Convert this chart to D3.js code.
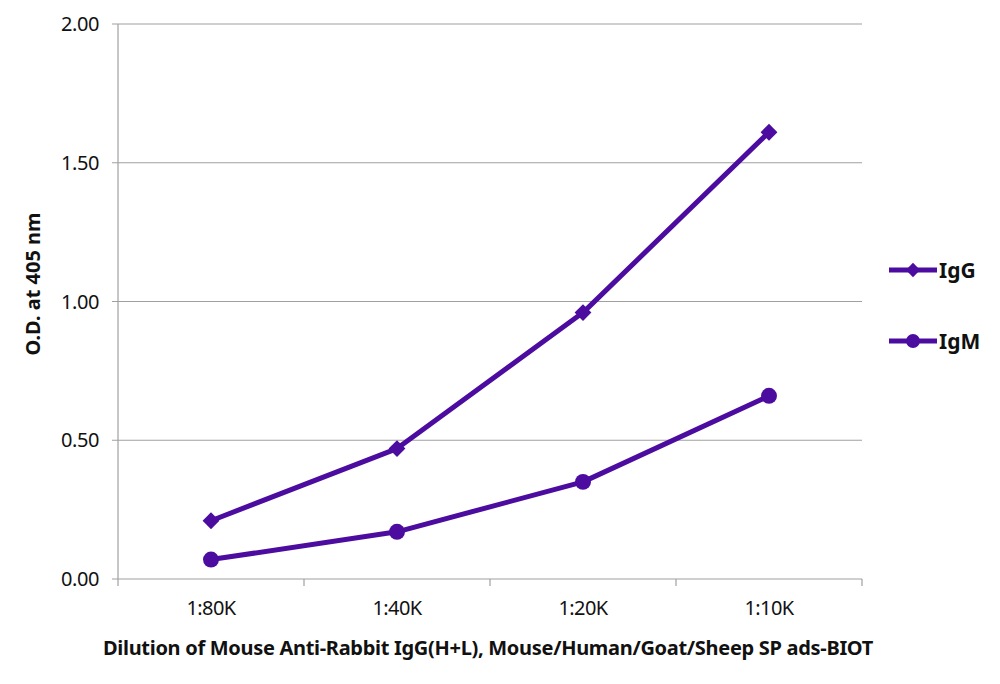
<!DOCTYPE html>
<html>
<head>
<meta charset="utf-8">
<script src="https://cdn.jsdelivr.net/npm/d3@7"></script>
<style>
  body { margin: 0; background: #fff; }
  text { font-family: "Noto Sans", "Open Sans", sans-serif; }
</style>
</head>
<body>
<svg id="chart" width="1000" height="684"></svg>
<script>
const dilutions = ['1:80K', '1:40K', '1:20K', '1:10K'];
const igG = [0.21, 0.47, 0.96, 1.61];
const igM = [0.07, 0.17, 0.35, 0.66];
const yTicks = [0, 0.5, 1.0, 1.5, 2.0];

const svg = d3.select('#chart');
const margin = { left: 118, top: 24, right: 138, bottom: 105 },
  width = 1000, height = 684;
const color = '#4b0c9f';

const x = d3.scaleBand()
  .domain(dilutions)
  .range([margin.left, width - margin.right]);

const y = d3.scaleLinear()
  .domain([0, 2])
  .range([height - margin.bottom, margin.top]);

// horizontal gridlines
svg.append('g')
  .selectAll('line')
  .data(yTicks)
  .enter()
  .append('line')
    .attr('x1', margin.left - 6)
    .attr('x2', width - margin.right)
    .attr('y1', d => y(d))
    .attr('y2', d => y(d))
    .attr('stroke', '#a0a0a0')
    .attr('stroke-width', 1.2);

// y axis line + labels
svg.append('line')
  .attr('x1', margin.left).attr('x2', margin.left)
  .attr('y1', y(2)).attr('y2', y(0))
  .attr('stroke', '#a0a0a0').attr('stroke-width', 1.2);

svg.append('g')
  .selectAll('text')
  .data(yTicks)
  .enter()
  .append('text')
    .attr('x', margin.left - 19)
    .attr('y', d => y(d))
    .attr('dy', '0.36em')
    .attr('text-anchor', 'end')
    .attr('font-size', 20)
    .attr('letter-spacing', -0.4)
    .attr('fill', '#111')
    .text(d => d.toFixed(2));

// x axis ticks at category boundaries
const bounds = dilutions.map(d => x(d)).concat([x.range()[1]]);
svg.append('g')
  .selectAll('line')
  .data(bounds)
  .enter()
  .append('line')
    .attr('x1', d => d).attr('x2', d => d)
    .attr('y1', y(0)).attr('y2', y(0) + 7)
    .attr('stroke', '#a0a0a0').attr('stroke-width', 1.2);

svg.append('g')
  .selectAll('text')
  .data(dilutions)
  .enter()
  .append('text')
    .attr('x', d => x(d) + x.bandwidth() / 2)
    .attr('y', y(0) + 36)
    .attr('text-anchor', 'middle')
    .attr('font-size', 20)
    .attr('letter-spacing', -0.6)
    .attr('fill', '#111')
    .text(d => d);

// axis titles
svg.append('text')
  .attr('x', 488)
  .attr('y', 655)
  .attr('text-anchor', 'middle')
  .attr('font-size', 20)
  .attr('font-weight', 'bold')
  .attr('letter-spacing', -0.3)
  .attr('fill', '#111')
  .text('Dilution of Mouse Anti-Rabbit IgG(H+L), Mouse/Human/Goat/Sheep SP ads-BIOT');

svg.append('text')
  .attr('transform', 'translate(40,284) rotate(-90)')
  .attr('text-anchor', 'middle')
  .attr('font-size', 20)
  .attr('font-weight', 'bold')
  .attr('fill', '#111')
  .text('O.D. at 405 nm');

// series lines
const line = d3.line()
  .x((d, i) => x(dilutions[i]) + x.bandwidth() / 2)
  .y(d => y(d));

const series = [
  { name: 'IgG', values: igG, marker: 'diamond' },
  { name: 'IgM', values: igM, marker: 'circle' }
];

series.forEach(s => {
  svg.append('path')
    .attr('d', line(s.values))
    .attr('fill', 'none')
    .attr('stroke', color)
    .attr('stroke-width', 5)
    .attr('stroke-linejoin', 'round');

  const sym = s.marker === 'diamond'
    ? d3.symbol().type(d3.symbolDiamond2).size(180)
    : d3.symbol().type(d3.symbolCircle).size(200);

  svg.append('g')
    .selectAll('path')
    .data(s.values)
    .enter()
    .append('path')
      .attr('d', sym)
      .attr('transform', (d, i) => `translate(${x(dilutions[i]) + x.bandwidth() / 2},${y(d)})`)
      .attr('fill', color);
});

// legend
const legend = svg.append('g');
series.forEach((s, i) => {
  const ly = 270 + i * 71;
  legend.append('line')
    .attr('x1', 889).attr('x2', 937)
    .attr('y1', ly).attr('y2', ly)
    .attr('stroke', color).attr('stroke-width', 5);
  const sym = s.marker === 'diamond'
    ? d3.symbol().type(d3.symbolDiamond2).size(130)
    : d3.symbol().type(d3.symbolCircle).size(150);
  legend.append('path')
    .attr('d', sym)
    .attr('transform', `translate(913,${ly})`)
    .attr('fill', color);
  legend.append('text')
    .attr('x', 939)
    .attr('y', ly)
    .attr('dy', '0.36em')
    .attr('font-size', 21)
    .attr('font-weight', 'bold')
    .attr('fill', '#111')
    .text(s.name);
});
</script>
</body>
</html>
